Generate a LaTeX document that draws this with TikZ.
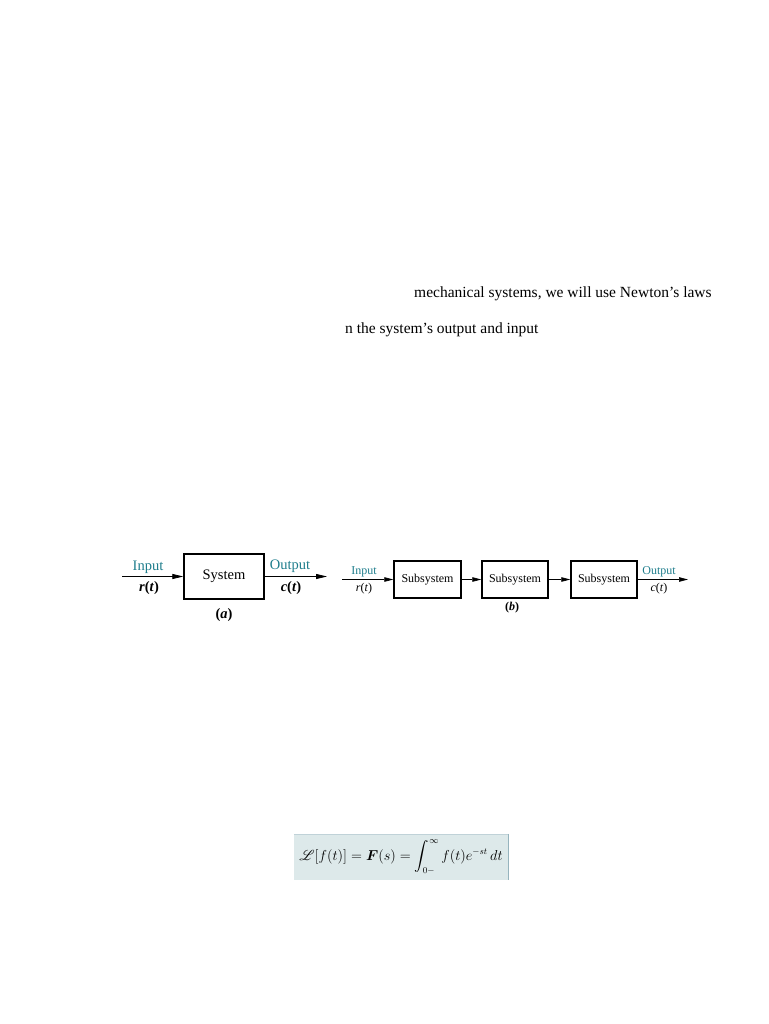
\documentclass[tikz,border=0pt]{standalone}
\usepackage{fontspec}
\setmainfont{Liberation Serif}
\usepackage{amsmath}
\usepackage{mathrsfs}
\usetikzlibrary{arrows.meta}
\definecolor{sigteal}{RGB}{30,125,140}
\definecolor{eqfill}{RGB}{221,233,234}
\definecolor{eqedge}{RGB}{150,180,190}
\tikzset{
  bodytext/.style={anchor=base west,inner sep=0pt,font=\fontsize{15.5}{18}\selectfont},
  blk/.style={draw,line width=1.4pt,inner sep=0pt},
  sig/.style={-{Triangle[length=11pt,width=5pt]},line width=0.8pt},
  sigb/.style={-{Triangle[length=9pt,width=4.5pt]},line width=0.7pt},
  lbl/.style={inner sep=0pt}
}
\begin{document}
\begin{tikzpicture}[x=1pt,y=-1pt]
  \useasboundingbox (0,0) rectangle (768,1024);
  \node[bodytext] (line1) at (414,297) {mechanical systems, we will use Newton’s laws};
  \node[bodytext] (line2) at (345,333) {n the system’s output and input};
  % (a)
  \begin{scope}[font=\fontsize{14.5}{16}\selectfont]
    \node[blk,minimum width=80pt,minimum height=45pt] (sys) at (224,576.5) {System};
    \coordinate (ain) at (122,576.5);
    \coordinate (aout) at (327,576.5);
    \draw[sig] (ain) -- (sys);
    \draw[sig] (sys) -- (aout);
    \node[lbl,text=sigteal] (ainlbl) at (148,567) {Input};
    \node[lbl] (ainsig) at (149,588) {\textbf{\textit{r}(\textit{t})}};
    \node[lbl,text=sigteal] (aoutlbl) at (290,566) {Output};
    \node[lbl] (aoutsig) at (291,588) {\textbf{\textit{c}(\textit{t})}};
    \node[lbl] (acap) at (224,615) {\textbf{(\textit{a})}};
  \end{scope}
  % (b)
  \begin{scope}[font=\fontsize{12}{14}\selectfont]
    \node[blk,minimum width=67pt,minimum height=37pt] (sub1) at (427.5,579.5) {Subsystem};
    \node[blk,minimum width=66pt,minimum height=37pt] (sub2) at (515,579.5) {Subsystem};
    \node[blk,minimum width=66pt,minimum height=37pt] (sub3) at (604,579.5) {Subsystem};
    \coordinate (bin) at (342,579.5);
    \coordinate (bout) at (688,579.5);
    \draw[sigb] (bin) -- (sub1);
    \draw[sigb] (sub1) -- (sub2);
    \draw[sigb] (sub2) -- (sub3);
    \draw[sigb] (sub3) -- (bout);
    \node[lbl,text=sigteal] (binlbl) at (364,572) {Input};
    \node[lbl] (binsig) at (364,589) {\textit{r}(\textit{t})};
    \node[lbl,text=sigteal] (boutlbl) at (659,572) {Output};
    \node[lbl] (boutsig) at (659,589) {\textit{c}(\textit{t})};
    \node[lbl] (bcap) at (512,608) {\textbf{(\textit{b})}};
  \end{scope}
  % Laplace transform
  \node[fill=eqfill,minimum width=214pt,minimum height=46pt,inner sep=0pt] (lapbox) at (401,857) {};
  \draw[eqedge,line width=1pt] (lapbox.north east) -- (lapbox.south east);
  \draw[eqedge!60,line width=0.6pt] (lapbox.north west) -- (lapbox.north east);
  \node[lbl,font=\fontsize{13.5}{16}\selectfont] (lapeq) at (401,857)
    {$\mathscr{L}[f(t)] = \boldsymbol{F}(s) = \displaystyle\int_{0-}^{\infty} f(t)e^{-st}\,dt$};
\end{tikzpicture}
\end{document}
